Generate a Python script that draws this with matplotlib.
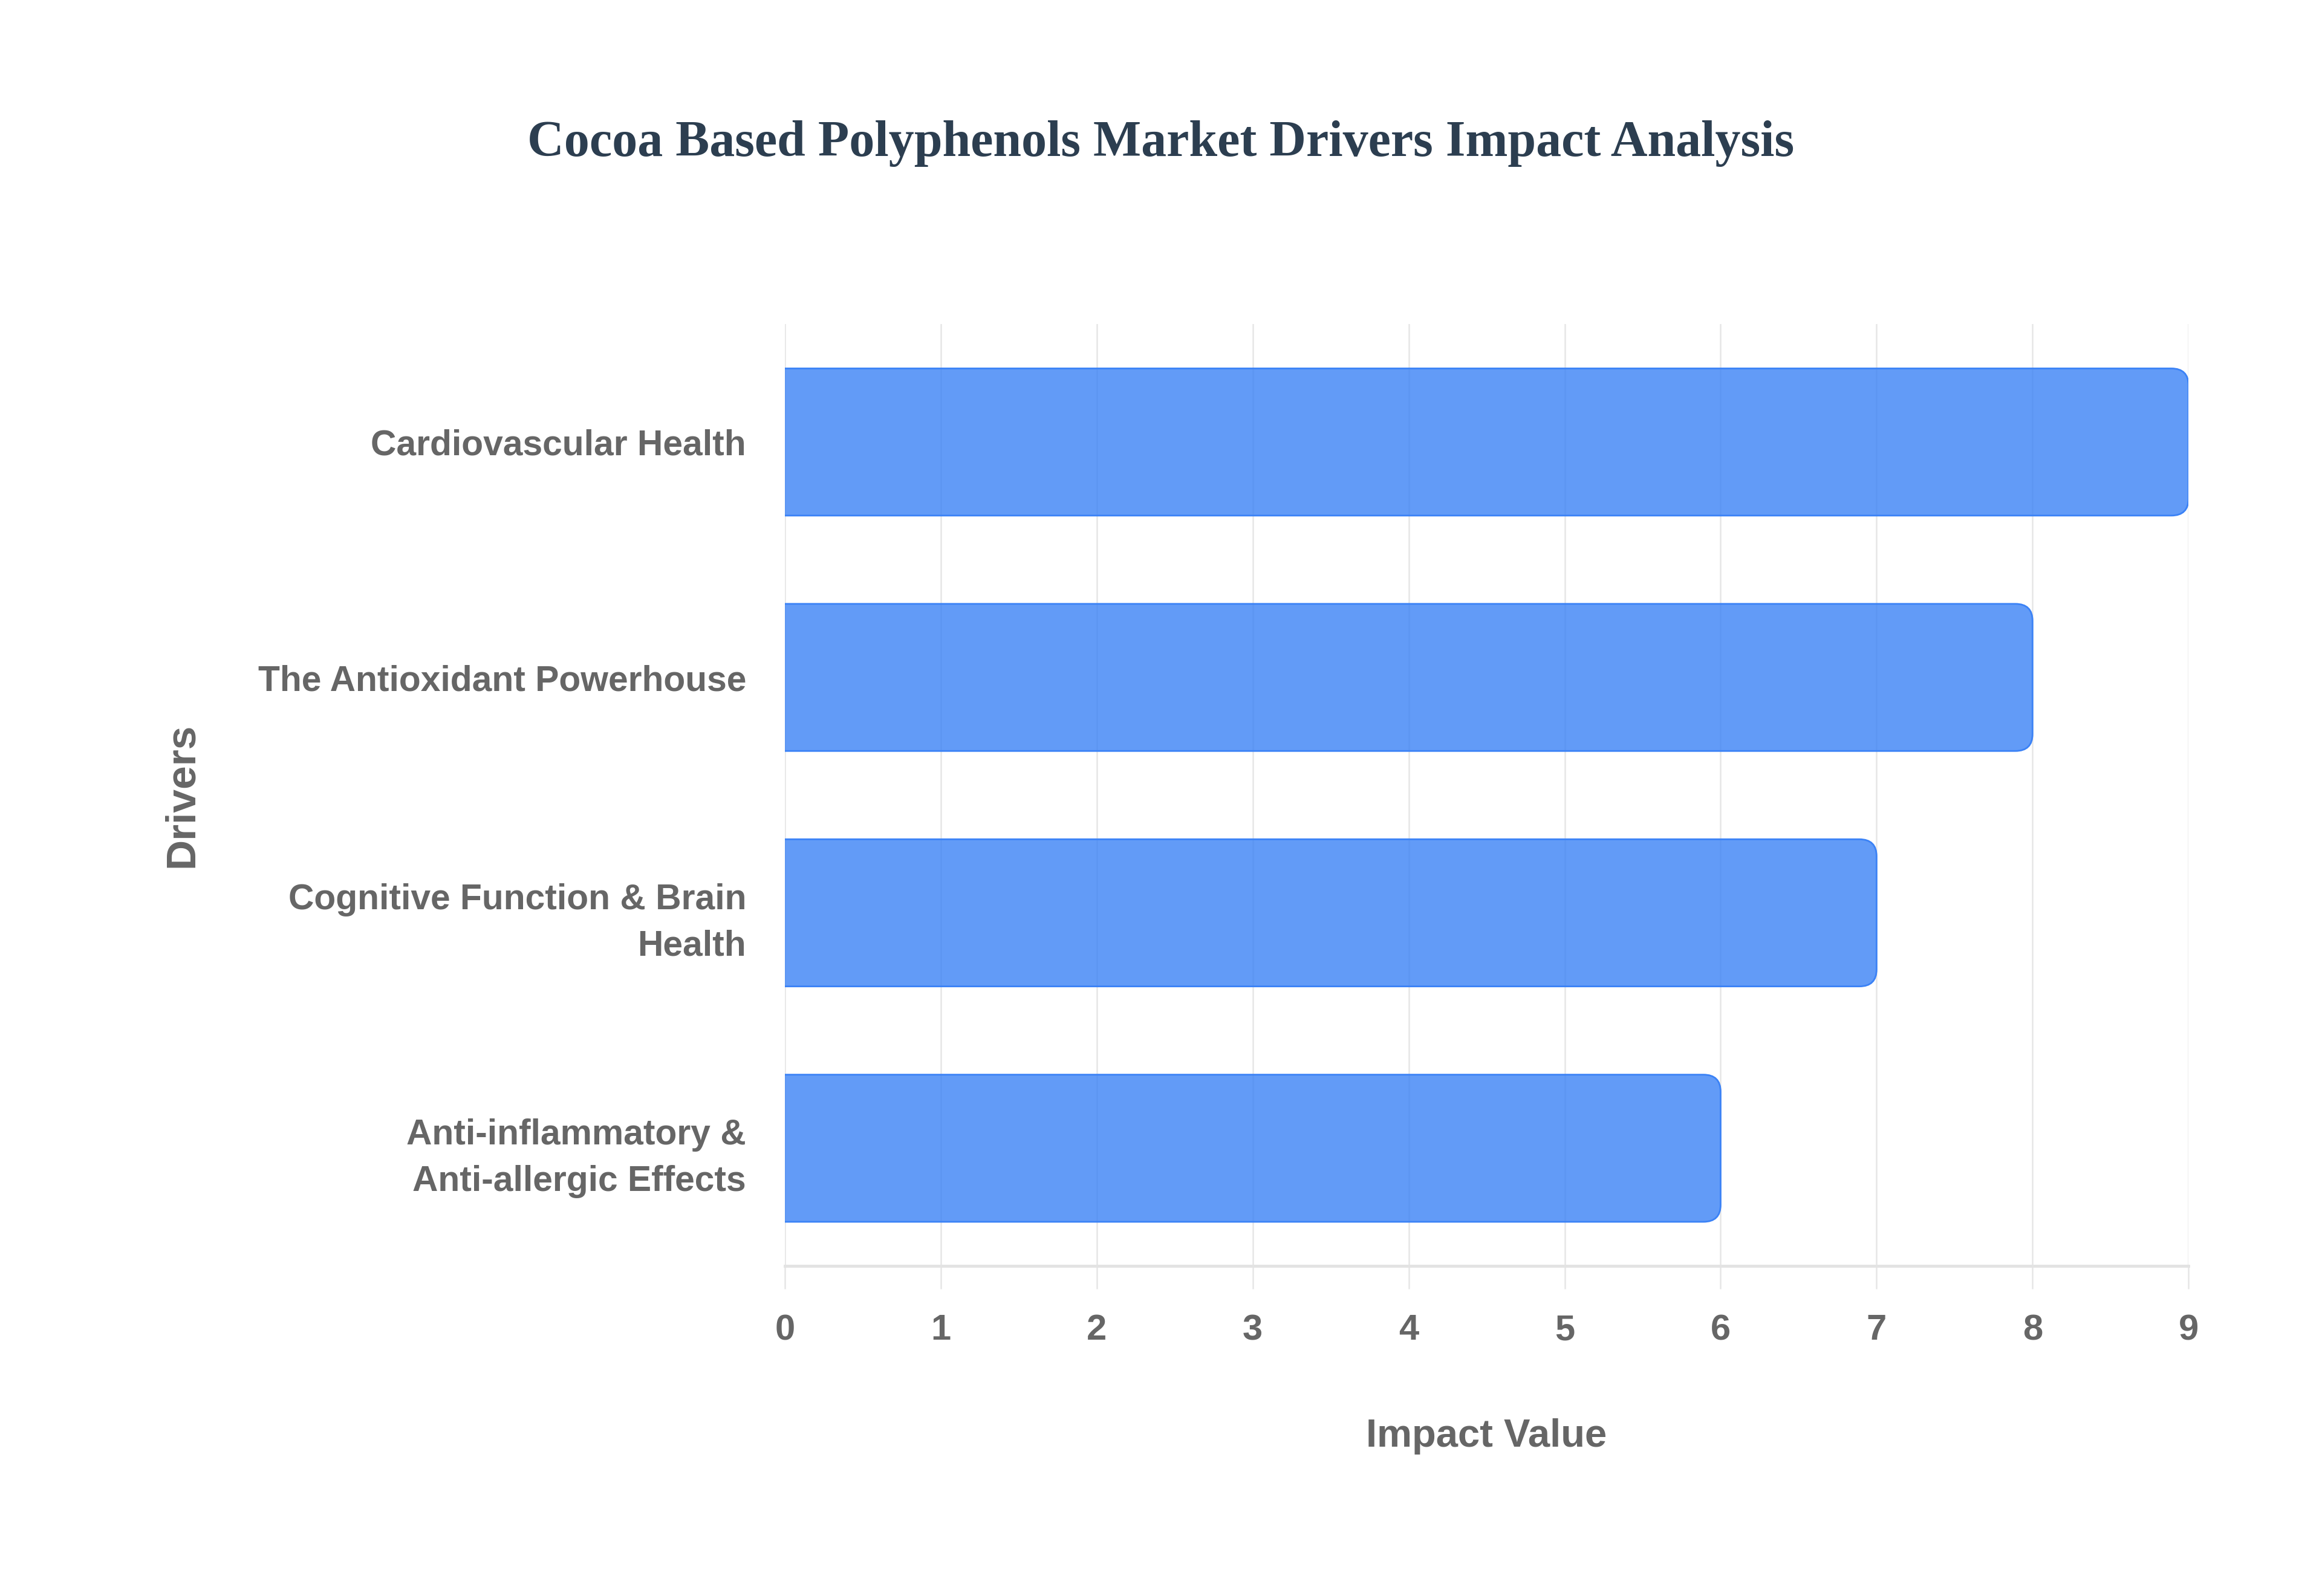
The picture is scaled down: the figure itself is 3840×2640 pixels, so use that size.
import matplotlib
matplotlib.use("Agg")
import matplotlib.pyplot as plt
from matplotlib.patches import FancyBboxPatch

drivers = [
    "Cardiovascular Health",
    "The Antioxidant Powerhouse",
    "Cognitive Function & Brain\nHealth",
    "Anti-inflammatory &\nAnti-allergic Effects",
]
impact = [9, 8, 7, 6]
x_ticks = [0, 1, 2, 3, 4, 5, 6, 7, 8, 9]

plt.rcParams['font.family'] = ['Liberation Sans', 'DejaVu Sans']
plt.rcParams['font.weight'] = 'bold'

fig = plt.figure(figsize=(38.4, 26.4), dpi=100)
ax = fig.add_axes([0.338, 0.2068, 0.6045, 0.590])

ypos = list(range(len(drivers)))
bars = ax.barh(ypos, impact, height=0.625)

# swap the plain bars for ones with rounded right ends
face = (0.231, 0.51, 0.965, 0.8)
edge = '#3b82f6'
for b in bars:
    x, y = b.get_x(), b.get_y()
    w, h = b.get_width(), b.get_height()
    b.remove()
    p = FancyBboxPatch((x - 0.4, y), w + 0.4, h,
                       boxstyle="round,pad=0,rounding_size=0.11",
                       mutation_aspect=0.659,
                       facecolor=face, edgecolor=edge, linewidth=2, zorder=2)
    ax.add_patch(p)

ax.set_xlim(0, 9)
ax.set_ylim(len(drivers) - 0.5, -0.5)
ax.set_xticks(x_ticks)
ax.set_yticks(ypos)
ax.set_yticklabels(drivers, linespacing=1.5)

ax.set_axisbelow(True)
ax.grid(axis='x', color='#e6e6e6', linewidth=1.8)
for s in ['top', 'right', 'left']:
    ax.spines[s].set_visible(False)
ax.spines['bottom'].set_color('#e3e3e3')
ax.spines['bottom'].set_linewidth(3.5)

ax.tick_params(axis='x', length=27, width=1.8, color='#e6e6e6', pad=30,
               labelsize=43, labelcolor='#666666')
ax.tick_params(axis='y', length=0, pad=46, labelsize=42.3, labelcolor='#666666')

ax.set_xlabel('Impact Value', fontsize=47, fontweight='bold', color='#666666', va='center')
ax.xaxis.set_label_coords(0.5, -0.181)
ax.set_ylabel('Drivers', fontsize=50, fontweight='bold', color='#666666', va='center')
ax.yaxis.set_label_coords(-0.4295, 0.5)

fig.text(0.500, 0.910, 'Cocoa Based Polyphenols Market Drivers Impact Analysis',
         ha='center', va='center', fontsize=60.5, fontweight='bold',
         family='Liberation Serif', color='#2c3e50')

fig.savefig('out.png', dpi=100)
